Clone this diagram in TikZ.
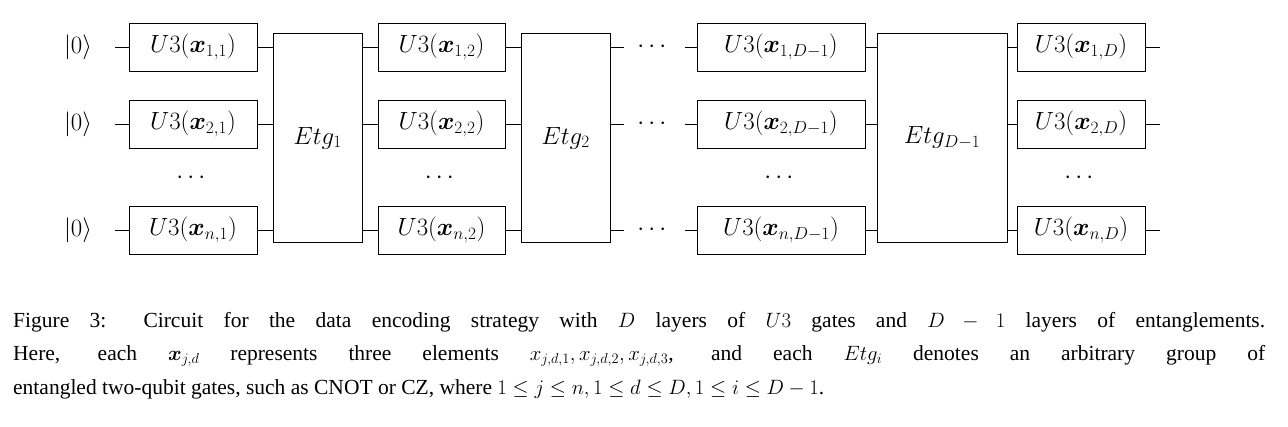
\documentclass[tikz,border=0pt]{standalone}
\usepackage{amsmath,bm}
\usepackage{fontspec}
\newfontfamily\capfont{Liberation Serif}
\usetikzlibrary{positioning}
\begin{document}
\begin{tikzpicture}[x=1pt,y=-1pt,
    gate/.style={draw, thick, minimum height=48pt, inner sep=0pt, font=\fontsize{24}{28}\selectfont},
    etg/.style={draw, thick, minimum height=209pt, inner sep=0pt, font=\fontsize{24}{28}\selectfont},
    wire/.style={thick},
    lbl/.style={font=\fontsize{24}{28}\selectfont, inner sep=0pt},
    captxt/.style={anchor=west, inner sep=0pt, font=\capfont\fontsize{21.5}{26}\selectfont}
    ]
    \useasboundingbox (0,0) rectangle (1288,426);
    % rows: 47, 124, 230
    \foreach \r/\y in {1/47,2/124,3/230}{
        \node[lbl] (k\r) at (78,\y) {$|0\rangle$};
        \coordinate (w\r) at (115,\y);
        \coordinate (m\r) at (624,\y);
        \coordinate (n\r) at (685,\y);
        \coordinate (e\r) at (1160,\y);
        \node[lbl] (dd\r) at (654,\y) {$\cdots$};
    }
    \foreach \r/\y/\s in {1/47/1,2/124/2,3/230/n}{
        \node[gate, minimum width=128pt] (a\r) at (193,\y) {$U3(\bm{x}_{\s,1})$};
        \node[gate, minimum width=127pt] (b\r) at (441.5,\y) {$U3(\bm{x}_{\s,2})$};
        \node[gate, minimum width=168pt] (c\r) at (781,\y) {$U3(\bm{x}_{\s,D-1})$};
        \node[gate, minimum width=128pt] (d\r) at (1081,\y) {$U3(\bm{x}_{\s,D})$};
    }
    \node[etg, minimum width=89pt] (g1) at (317.5,138) {$Etg_1$};
    \node[etg, minimum width=89pt] (g2) at (565.5,138) {$Etg_2$};
    \node[etg, minimum width=130pt] (g3) at (942,138) {$Etg_{D-1}$};
    \foreach \r in {1,2,3}{
        \draw[wire] (w\r) -- (a\r.west);
        \draw[wire] (a\r.east) -- (a\r.east -| g1.west);
        \draw[wire] (b\r.west -| g1.east) -- (b\r.west);
        \draw[wire] (b\r.east) -- (b\r.east -| g2.west);
        \draw[wire] (m\r -| g2.east) -- (m\r);
        \draw[wire] (n\r) -- (c\r.west);
        \draw[wire] (c\r.east) -- (c\r.east -| g3.west);
        \draw[wire] (d\r.west -| g3.east) -- (d\r.west);
        \draw[wire] (d\r.east) -- (e\r);
    }
    \node[lbl] (v1) at (193,178) {$\cdots$};
    \node[lbl] (v2) at (441.5,178) {$\cdots$};
    \node[lbl] (v3) at (781,178) {$\cdots$};
    \node[lbl] (v4) at (1081,178) {$\cdots$};
    % caption
    \node[captxt] (c1) at (13,322) {\makebox[1252pt][s]{Figure 3: Circuit for the data encoding strategy with $D$ layers of $U3$ gates and $D-1$ layers of entanglements.}};
    \node[captxt] (c2) at (13,356) {\makebox[1252pt][s]{Here, each $\bm{x}_{j,d}$ represents three elements $x_{j,d,1}, x_{j,d,2}, x_{j,d,3}$, and each $Etg_i$ denotes an arbitrary group of}};
    \node[captxt] (c3) at (13,389) {entangled two-qubit gates, such as CNOT or CZ, where $1 \leq j \leq n, 1 \leq d \leq D, 1 \leq i \leq D-1$.};
\end{tikzpicture}
\end{document}
